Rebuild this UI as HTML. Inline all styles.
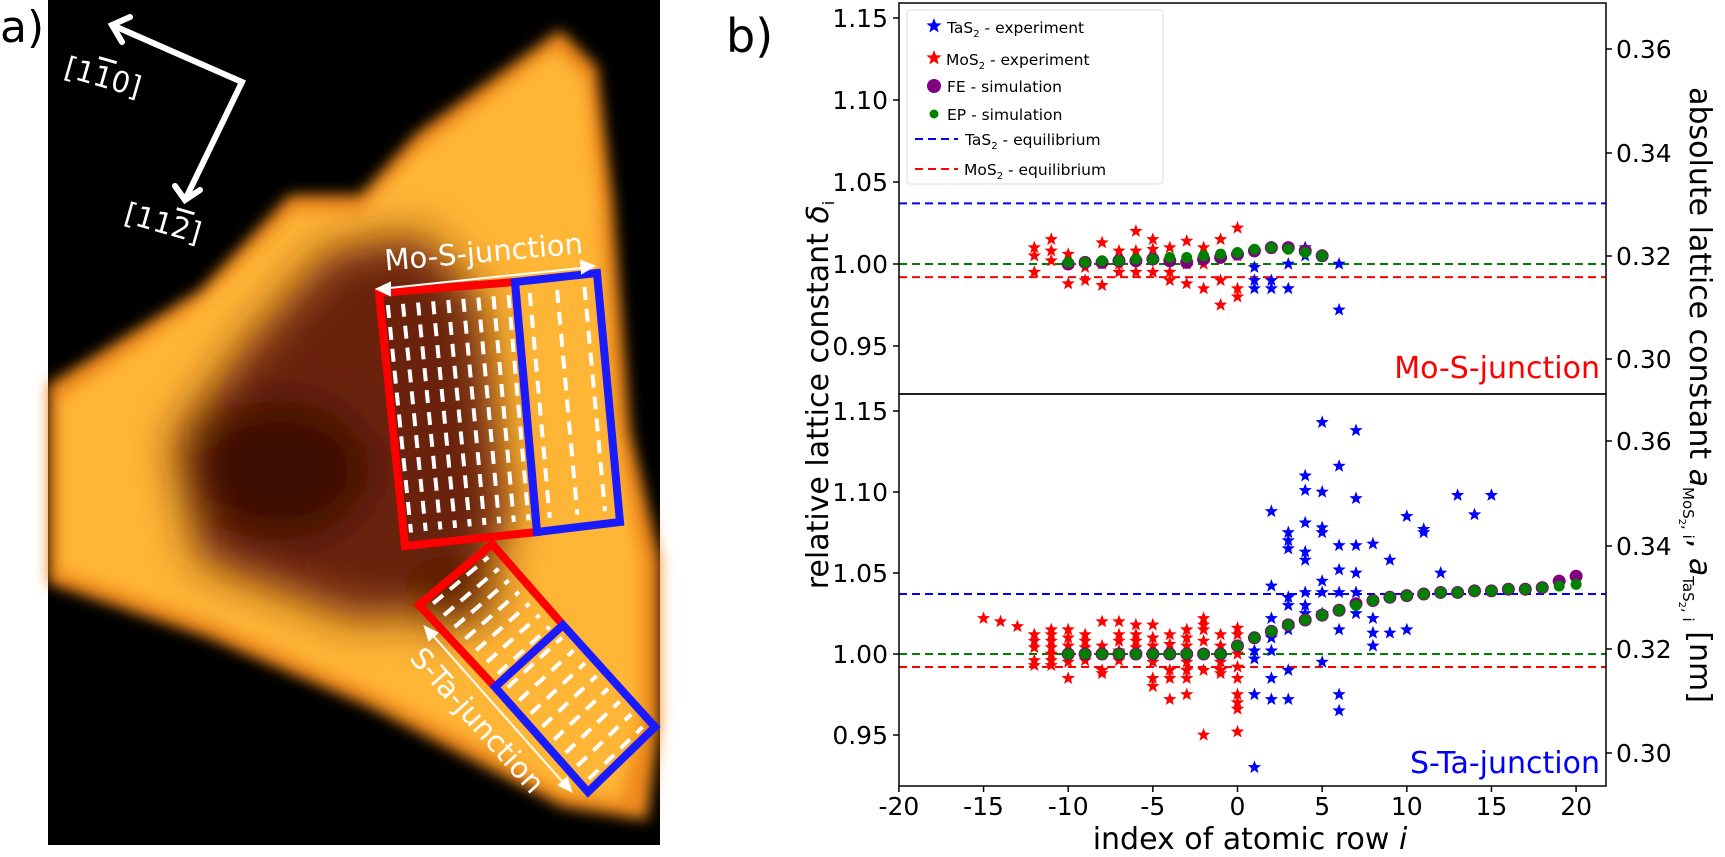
<!DOCTYPE html>
<html><head><meta charset="utf-8"><style>
html,body{margin:0;padding:0;background:#fff;}
svg{display:block;font-family:"DejaVu Sans","Liberation Sans",sans-serif;}
</style></head><body>
<svg id="s" width="1725" height="857" viewBox="0 0 1725 857" xmlns="http://www.w3.org/2000/svg">
<defs>
<filter id="bl" x="-20%" y="-20%" width="140%" height="140%"><feGaussianBlur stdDeviation="7"/></filter>
<filter id="bl2" x="-50%" y="-50%" width="200%" height="200%"><feGaussianBlur stdDeviation="22"/></filter>
</defs>
<!-- panel a -->
<text x="0" y="42" font-size="44">a)</text>
<rect x="48" y="0" width="612" height="845" fill="#000"/>
<g filter="url(#bl)">
<polygon points="48,385 200,290 290,195 360,195 417,133 560,30 597,67 613,200 630,430 660,560 660,720 647,820 563,807 497,773 370,707 207,637 48,583" fill="#f08a1c"/>
<polygon points="60,400 200,305 295,212 360,212 420,150 555,50 585,80 598,200 612,420 640,560 640,720 620,800 560,790 500,755 370,690 210,620 60,570" fill="#ffb535"/>
</g>
<g filter="url(#bl2)">
<polygon points="175,440 250,340 330,250 420,235 480,300 510,520 470,600 360,620 200,560" fill="#6a2208"/>
<ellipse cx="280" cy="470" rx="90" ry="70" fill="#3a0e02"/>
<ellipse cx="450" cy="590" rx="45" ry="35" fill="#5a1a06"/>
</g>
<!-- rectangles -->
<polygon points="379,293 515,282 537,532 405,546" fill="none" stroke="#f00" stroke-width="8"/>
<polygon points="515,282 597,273 620,522 537,532" fill="none" stroke="#1a1aff" stroke-width="8"/>
<polygon points="419,605 492,544 563,625 495,687" fill="none" stroke="#f00" stroke-width="8"/>
<polygon points="495,687 563,625 655,727 588,792" fill="none" stroke="#1a1aff" stroke-width="8"/>
<g id="dashes" stroke="#fff" stroke-width="4" stroke-dasharray="13 9"></g>
<!-- arrows -->
<g stroke="#fff" stroke-width="6" fill="none" stroke-linecap="round">
<polyline points="112,25 242,82 185,200"/>
<polyline points="130,17 112,25 122,42"/>
<polyline points="175,186 185,200 200,190"/>
</g>
<text x="103" y="87" font-size="29" fill="#fff" text-anchor="middle" transform="rotate(16 103 77)">[1<tspan text-decoration="overline">1</tspan>0]</text>
<text x="163" y="233" font-size="29" fill="#fff" text-anchor="middle" transform="rotate(16 163 223)">[11<tspan text-decoration="overline">2</tspan>]</text>
<text x="484" y="262" font-size="29" fill="#fff" text-anchor="middle" transform="rotate(-5 484 257)">Mo-S-junction</text>
<g stroke="#fff" stroke-width="2" fill="#fff">
<line x1="380" y1="289" x2="591" y2="267"/>
<polygon points="377,289 390,283 390,295"/>
<polygon points="594,266 581,261 582,273"/>
<line x1="428" y1="630" x2="568" y2="788"/>
<polygon points="425,627 429,640 437,633"/>
<polygon points="571,791 567,778 559,785"/>
</g>
<text x="470" y="727" font-size="29" fill="#fff" text-anchor="middle" transform="rotate(48 470 727)">S-Ta-junction</text>

<!-- panel b -->
<text x="726" y="52" font-size="46">b)</text>
<g id="plot"></g>
<rect x="899" y="3" width="707" height="391" fill="none" stroke="#000" stroke-width="1.5"/>
<rect x="899" y="394" width="707" height="392" fill="none" stroke="#000" stroke-width="1.5"/>
<text x="1600" y="378" font-size="30" fill="#f00" text-anchor="end">Mo-S-junction</text>
<text x="1600" y="773" font-size="30" fill="#00f" text-anchor="end">S-Ta-junction</text>
<!-- legend -->
<rect x="907" y="10" width="256" height="174" fill="#fff" fill-opacity="0.85" stroke="#ddd" rx="3"/>
<g font-size="15.5">
<text x="947" y="33">TaS<tspan font-size="10" dy="4">2</tspan><tspan dy="-4"> - experiment</tspan></text>
<text x="946" y="65">MoS<tspan font-size="10" dy="4">2</tspan><tspan dy="-4"> - experiment</tspan></text>
<text x="947" y="92">FE - simulation</text>
<text x="947" y="120">EP - simulation</text>
<text x="965" y="145">TaS<tspan font-size="10" dy="4">2</tspan><tspan dy="-4"> - equilibrium</tspan></text>
<text x="964" y="175">MoS<tspan font-size="10" dy="4">2</tspan><tspan dy="-4"> - equilibrium</tspan></text>
</g>
<circle cx="934" cy="86" r="7" fill="#800080"/>
<circle cx="934" cy="114" r="4.5" fill="#008000"/>
<line x1="915" y1="139" x2="958" y2="139" stroke="#00f" stroke-width="2" stroke-dasharray="8 5"/>
<line x1="915" y1="169" x2="958" y2="169" stroke="#f00" stroke-width="2" stroke-dasharray="8 5"/>
<g id="legstars"></g>
<!-- axis labels -->
<text x="1250" y="849" font-size="30" text-anchor="middle">index of atomic row <tspan font-style="italic">i</tspan></text>
<text transform="translate(828 395) rotate(-90)" font-size="30" text-anchor="middle">relative lattice constant <tspan font-style="italic">δ</tspan><tspan font-size="16" dy="6">i</tspan></text>
<text transform="translate(1690 395) rotate(90)" font-size="30" text-anchor="middle">absolute lattice constant <tspan font-style="italic">a</tspan><tspan font-size="15" dy="7">MoS</tspan><tspan font-size="10" dy="4">2</tspan><tspan font-size="15" dy="-4">, i</tspan><tspan dy="-7">, </tspan><tspan font-style="italic">a</tspan><tspan font-size="15" dy="7">TaS</tspan><tspan font-size="10" dy="4">2</tspan><tspan font-size="15" dy="-4">, i</tspan><tspan dy="-7"> [nm]</tspan></text>
</svg>
<script>
var NS="http://www.w3.org/2000/svg";
var plot=document.getElementById('plot');
function el(t,a,p){var e=document.createElementNS(NS,t);for(var k in a)e.setAttribute(k,a[k]);(p||plot).appendChild(e);return e;}
function X(i){return 1237.5+16.93*i;}
function YT(v){return 264-(v-1)*1640;}
function YB(v){return 654-(v-1)*1620;}
function star(cx,cy,r,c,p){var pts=[];for(var k=0;k<10;k++){var rr=k%2?r*0.42:r;var a=-Math.PI/2+k*Math.PI/5;pts.push((cx+rr*Math.cos(a)).toFixed(1)+','+(cy+rr*Math.sin(a)).toFixed(1));}el('polygon',{points:pts.join(' '),fill:c},p);}
var lv=[1.15,1.10,1.05,1.00,0.95];
lv.forEach(function(v){[YT,YB].forEach(function(F){var y=F(v);el('line',{x1:893,y1:y,x2:899,y2:y,stroke:'#000','stroke-width':1.5});var t=el('text',{x:888,y:y+9,'font-size':25,'text-anchor':'end'});t.textContent=v.toFixed(2);});});
[[49,'0.36'],[153,'0.34'],[256,'0.32'],[359,'0.30'],[441,'0.36'],[546,'0.34'],[649,'0.32'],[753,'0.30']].forEach(function(d){el('line',{x1:1606,y1:d[0],x2:1612,y2:d[0],stroke:'#000','stroke-width':1.5});var t=el('text',{x:1616,y:d[0]+9,'font-size':25});t.textContent=d[1];});
for(var i=-20;i<=20;i+=5){var x=X(i);el('line',{x1:x,y1:786,x2:x,y2:792,stroke:'#000','stroke-width':1.5});var t=el('text',{x:x,y:815,'font-size':25,'text-anchor':'middle'});t.textContent=i;}
[[1.037,'#00f'],[1.0,'#008000'],[0.992,'#f00']].forEach(function(d){[YT,YB].forEach(function(F){var y=F(d[0]);el('line',{x1:899,y1:y,x2:1606,y2:y,stroke:d[1],'stroke-width':2,'stroke-dasharray':'8 5'});});});
var redB={'-15':[1.022],'-14':[1.02],'-13':[1.017],'-12':[1.012,1.008,1.004,0.996,0.993],'-11':[1.015,1.012,1.008,1.004,1.0,0.996,0.993],'-10':[1.015,1.01,1.005,1.0,0.995,0.985],'-9':[1.012,1.008,1.004,1.0,0.996],'-8':[1.02,1.005,1.0,0.99,0.988],'-7':[1.02,1.012,1.008,1.002,0.996],'-6':[1.018,1.012,1.008,1.004,1.0],'-5':[1.018,1.01,1.005,0.995,0.985,0.98],'-4':[1.012,1.006,1.0,0.99,0.985,0.972],'-3':[1.015,1.01,1.005,1.0,0.995,0.99,0.985,0.975],'-2':[1.022,1.018,1.015,1.008,1.0,0.99,0.95],'-1':[1.012,1.005,0.995,0.99,0.988],'0':[1.016,1.012,1.0,0.992,0.985,0.975,0.97,0.966,0.952]};
var blueB={'1':[1.002,0.997,0.975,0.93],'2':[1.088,1.042,1.022,1.01,1.002,0.985,0.972],'3':[1.075,1.07,1.065,1.035,1.03,1.015,0.99,0.972],'4':[1.11,1.101,1.081,1.063,1.058,1.038,1.03,1.025],'5':[1.143,1.10,1.078,1.075,1.045,1.038,1.025,0.995],'6':[1.116,1.067,1.052,1.038,1.015,0.975,0.965],'7':[1.138,1.096,1.067,1.05,1.038,1.025],'8':[1.068,1.022,1.013,1.005],'9':[1.058,1.013],'10':[1.085,1.015],'11':[1.075,1.077],'12':[1.05],'13':[1.098],'14':[1.086],'15':[1.098]};
var redT={'-12':[1.01,1.005,0.995],'-11':[1.015,1.008,1.002],'-10':[1.006,0.988],'-9':[0.99,0.998],'-8':[1.013,1.0,0.987],'-7':[1.008,1.0,0.995],'-6':[1.02,1.008,0.995],'-5':[1.015,1.009,0.995],'-4':[1.01,0.995,0.99],'-3':[1.014,1.0,0.988],'-2':[1.01,1.0,0.985],'-1':[1.015,0.99,0.975],'0':[1.022,1.005,0.985,0.98]};
var blueT={'1':[0.998,0.99,0.985],'2':[1.01,0.99,0.985],'3':[1.0,0.985],'4':[1.01,1.005],'5':[1.005],'6':[1.0,0.972]};
function stars(d,F,c){for(var k in d){d[k].forEach(function(v){star(X(+k),F(v),7,c);});}}
stars(redB,YB,'#f00');stars(blueB,YB,'#00f');stars(redT,YT,'#f00');stars(blueT,YT,'#00f');
var simB=[];for(var i=-10;i<=-1;i++)simB.push([i,1.0,1.0]);
[[0,1.005,1.005],[1,1.01,1.01],[2,1.014,1.014],[3,1.018,1.018],[4,1.021,1.021],[5,1.024,1.024],[6,1.027,1.027],[7,1.031,1.03],[8,1.033,1.033],[9,1.035,1.035],[10,1.036,1.036],[11,1.037,1.037],[12,1.038,1.038],[13,1.038,1.038],[14,1.039,1.039],[15,1.039,1.039],[16,1.04,1.04],[17,1.04,1.04],[18,1.041,1.041],[19,1.045,1.042],[20,1.048,1.043]].forEach(function(a){simB.push(a);});
var simT=[[-10,1.0,1.001],[-9,1.001,1.001],[-8,1.001,1.002],[-7,1.002,1.002],[-6,1.002,1.003],[-5,1.003,1.003],[-4,1.002,1.004],[-3,1.001,1.004],[-2,1.003,1.005],[-1,1.004,1.006],[0,1.006,1.007],[1,1.008,1.009],[2,1.01,1.01],[3,1.01,1.009],[4,1.008,1.007],[5,1.005,1.005]];
function sims(d,F){d.forEach(function(a){el('circle',{cx:X(a[0]),cy:F(a[1]),r:6.5,fill:'#800080'});});d.forEach(function(a){el('circle',{cx:X(a[0]),cy:F(a[2]),r:5.5,fill:'#008000'});});}
sims(simB,YB);sims(simT,YT);
var ls=document.getElementById('legstars');star(934,26,8,'#00f',ls);star(934,58,8,'#f00',ls);
var dg=document.getElementById('dashes');
// lines from edge p0-p1 (interpolated) to edge p3-p2
function grid(p,n,ins){for(var c=0;c<n;c++){var u=(c+0.5)/n;
 var a=[p[0][0]+(p[1][0]-p[0][0])*u,p[0][1]+(p[1][1]-p[0][1])*u];
 var b=[p[3][0]+(p[2][0]-p[3][0])*u,p[3][1]+(p[2][1]-p[3][1])*u];
 el('line',{x1:a[0]+(b[0]-a[0])*ins,y1:a[1]+(b[1]-a[1])*ins,x2:b[0]-(b[0]-a[0])*ins,y2:b[1]-(b[1]-a[1])*ins},dg);}}
grid([[379,293],[515,282],[537,532],[405,546]],9,0.05);
grid([[515,282],[597,273],[620,522],[537,532]],3,0.05);
// lower: lines parallel to short side (p0->p1 short side); spaced along long side
grid([[419,605],[495,687],[563,625],[492,544]],7,0.12);
grid([[495,687],[588,792],[655,727],[563,625]],8,0.1);
</script>
</body></html>
